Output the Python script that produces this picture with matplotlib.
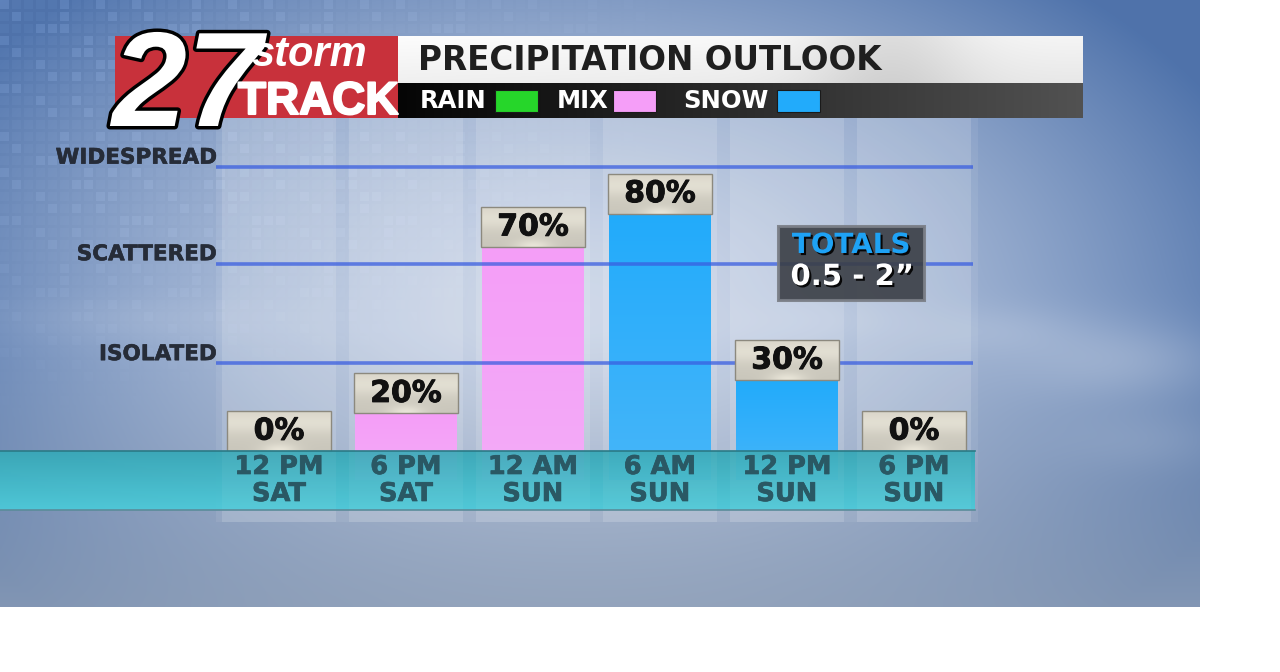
import numpy as np
import matplotlib
matplotlib.use("Agg")
import matplotlib.pyplot as plt
from matplotlib.patches import Rectangle
from matplotlib.colors import to_rgb
from matplotlib.transforms import blended_transform_factory as blend
import matplotlib.patheffects as pe

# ---------------- data ----------------
time_labels = ["12 PM\nSAT", "6 PM\nSAT", "12 AM\nSUN", "6 AM\nSUN", "12 PM\nSUN", "6 PM\nSUN"]
chance_pct = [0, 20, 70, 80, 30, 0]
precip_type = ["none", "mix", "mix", "snow", "snow", "none"]
level_values = [35, 65, 94]
level_names = ["ISOLATED", "SCATTERED", "WIDESPREAD"]
legend_names = ["RAIN", "MIX", "SNOW"]
title_text = "PRECIPITATION OUTLOOK"
totals_title = "TOTALS"
totals_value = "0.5 - 2\u201d"

type_colors = {"rain": "#26d62a", "mix": "#f59ef8", "snow": "#22abfb", "none": "#ffffff"}

MAIN = "DejaVu Sans"
LOGO = ["Liberation Sans", "DejaVu Sans"]

W, H = 1280, 672
IW, IH = 1200, 607
fig = plt.figure(figsize=(12.8, 6.72), dpi=100)
fig.patch.set_facecolor("white")

bg = fig.add_axes([0, 0, 1, 1], zorder=0)
bg.set_xlim(0, W); bg.set_ylim(H, 0); bg.axis("off")

# ---------------- background image ----------------
yy, xx = np.mgrid[0:IH, 0:IW].astype(float)
light = np.array([0.80, 0.84, 0.91])
blue = np.array([0.31, 0.45, 0.67])
gray = np.array([0.60, 0.65, 0.72])
d = np.sqrt(((xx - 580) / 720) ** 2 + ((yy - 310) / 440) ** 2)
wb = np.clip(d, 0, 1) ** 1.5
img = light * (1 - wb[..., None]) + blue * wb[..., None]
g = np.clip((yy - 330) / 280, 0, 1) ** 1.1 * 0.7
img = img * (1 - g[..., None]) + gray * g[..., None]
for cx, cy, sx, sy, a in [(1120, 360, 110, 40, 0.22), (1000, 330, 80, 25, 0.12),
                          (150, 320, 160, 25, 0.10), (1150, 440, 90, 30, 0.10),
                          (820, 320, 90, 20, 0.08)]:
    blob = a * np.exp(-(((xx - cx) / sx) ** 2 + ((yy - cy) / sy) ** 2))
    img = img * (1 - blob[..., None]) + 1.0 * blob[..., None]
ix = (xx // 12).astype(int); iy = (yy // 12).astype(int)
inside = ((xx % 12) < 9) & ((yy % 12) < 9)
hsh = (ix * 73 + iy * 151 + ix * iy * 7) % 11
fade = np.clip(1 - np.sqrt((xx / 700) ** 2 + (yy / 420) ** 2), 0, 1)
tex = inside * (0.02 + 0.04 * (hsh < 3)) * fade
img = np.clip(img + tex[..., None], 0, 1)
bg.imshow(img, extent=(0, IW, IH, 0), aspect="auto", interpolation="bilinear", zorder=0)

# ---------------- bar axes ----------------
n = len(time_labels)
Y0, PPP = 480.0, 3.33          # pixel of 0 %, pixels per percent
SLOT, X0 = 127.0, 279.0        # category spacing / first centre (pixels)
ax = fig.add_axes([(X0 - SLOT / 2) / W, (H - Y0) / H, SLOT * n / W, 100 * PPP / H], zorder=1)
ax.set_xlim(-0.5, n - 0.5); ax.set_ylim(0, 100); ax.axis("off")
x = np.arange(n)

tr_colpix = blend(ax.transData, bg.transData)
tr_pixval = blend(bg.transData, ax.transData)

bg.add_patch(Rectangle((-0.5, 118), n, 404, transform=tr_colpix, facecolor="white",
                       alpha=0.07, lw=0, zorder=1))
for i in x:
    bg.add_patch(Rectangle((i - 0.45, 118), 0.9, 404, transform=tr_colpix,
                           facecolor="white", alpha=0.14, lw=0, zorder=1))

bar_cols = [type_colors[t] for t in precip_type]
bars = ax.bar(x, chance_pct, width=0.8, color=bar_cols, zorder=2, linewidth=0)
# subtle vertical shading inside each bar (saturated top, paler bottom)
for rect, col, v in zip(bars.patches, bar_cols, chance_pct):
    if v <= 0:
        continue
    c = np.array(to_rgb(col))
    s = np.linspace(0, 1, 50)[:, None, None]
    grad = c * (1 - 0.18 * s) + np.array([0.92, 0.90, 0.95]) * 0.18 * s
    im = ax.imshow(np.repeat(grad, 4, axis=1), extent=(rect.get_x(), rect.get_x() + rect.get_width(), 0, v),
                   aspect="auto", origin="upper", zorder=2.1, interpolation="bilinear")
    im.set_clip_path(rect)

for lv, nm in zip(level_values, level_names):
    ax.plot([0, 973], [lv, lv], transform=tr_pixval, color="#3a5ee0", lw=2.6,
            alpha=0.75, zorder=3, solid_capstyle="butt")
    ax.text(217, lv + 1.0, nm, transform=tr_pixval, ha="right", va="baseline",
            fontsize=15.5, fontweight="bold", family=MAIN, color="#262c38", zorder=3,
            path_effects=[pe.withStroke(linewidth=0.4, foreground="#262c38")])

BASE = (Y0 - 451) / PPP
BOXH = 12.0
gy, gx = np.mgrid[0:40, 0:100] / np.array([39.0, 99.0])[:, None, None]
tone = 0.84 + 0.06 * np.exp(-((gy - 0.3) / 0.25) ** 2) - 0.05 * gy \
       + 0.12 * np.exp(-((gx - 0.5) / 0.18) ** 2) * np.exp(-((gy - 1.0) / 0.18) ** 2)
box_img = np.clip(np.stack([tone * 1.0, tone * 0.985, tone * 0.93], axis=-1), 0, 1)
heavy_black = [pe.withStroke(linewidth=0.7, foreground="#111111")]
for i, v in zip(x, chance_pct):
    b = max(v, BASE)
    ax.imshow(box_img, extent=(i - 0.41, i + 0.41, b, b + BOXH), aspect="auto",
              origin="upper", zorder=4, interpolation="bilinear")
    ax.add_patch(Rectangle((i - 0.41, b), 0.82, BOXH, facecolor="none",
                           edgecolor="#8c897e", lw=1.0, zorder=4.5))
    ax.text(i, b + BOXH / 2, f"{v}%", ha="center", va="center", fontsize=21.5,
            fontweight="bold", family=MAIN, color="#111111", zorder=5,
            path_effects=heavy_black)
ax.set_xlim(-0.5, n - 0.5); ax.set_ylim(0, 100)

# ---------------- overlay axes ----------------
ov = fig.add_axes([0, 0, 1, 1], zorder=2)
ov.set_xlim(0, W); ov.set_ylim(H, 0); ov.axis("off")
tr_colov = blend(ax.transData, ov.transData)

band = np.linspace(0, 1, 60)[:, None]
c_top = np.array([0.22, 0.66, 0.72]); c_bot = np.array([0.30, 0.79, 0.85])
band_img = np.repeat(c_top * (1 - band[..., None]) + c_bot * band[..., None], 10, axis=1)
ov.imshow(band_img, extent=(0, 975, 510, 451), aspect="auto", alpha=0.95, zorder=1)
for i in x:
    ov.add_patch(Rectangle((i - 0.45, 451), 0.9, 59, transform=tr_colov, facecolor="white",
                           alpha=0.04, lw=0, zorder=1.5))
ov.plot([0, 975], [451, 451], color="#2b7a86", lw=1.2, zorder=2)
ov.plot([0, 975], [510, 510], color="#5a8c9a", lw=1.2, zorder=2)
teal_txt = [pe.withStroke(linewidth=0.5, foreground="#2a5864")]
for i, lab in zip(x, time_labels):
    l1, l2 = lab.split("\n")
    ov.text(i, 467, l1, transform=tr_colov, ha="center", va="center", fontsize=18.5,
            fontweight="bold", family=MAIN, color="#2a5864", zorder=3, path_effects=teal_txt)
    ov.text(i, 494, l2, transform=tr_colov, ha="center", va="center", fontsize=18.5,
            fontweight="bold", family=MAIN, color="#2a5864", zorder=3, path_effects=teal_txt)

# header
ov.add_patch(Rectangle((115, 36), 283, 82, facecolor="#c8313b", lw=0, zorder=4))
t = np.linspace(0, 1, 300)
tw = 0.99 - 0.10 * np.exp(-((t - 0.72) / 0.12) ** 2) - 0.03 * t
tv = np.linspace(0, 1, 47)[:, None]
white_img = (tw[None, :] - 0.05 * tv)[..., None] * np.ones(3)
ov.imshow(np.clip(white_img, 0, 1), extent=(398, 1083, 83, 36), aspect="auto", zorder=4)
td = 0.02 + 0.30 * t
dark_img = np.repeat(td[None, :], 10, axis=0)[..., None] * np.ones(3)
ov.imshow(dark_img, extent=(398, 1083, 118, 83), aspect="auto", zorder=4)
ov.text(418, 60, title_text, ha="left", va="center", fontsize=23.5, fontweight="bold",
        family=MAIN, color="#1f1f1f", zorder=5)

leg_text_x = [420, 557, 683]
leg_box_x = [495, 613, 777]
for nm, tx, bx in zip(legend_names, leg_text_x, leg_box_x):
    ov.text(tx, 101, nm, ha="left", va="center", fontsize=17.5, fontweight="bold",
            family=MAIN, color="white", zorder=5)
    ov.add_patch(Rectangle((bx, 90), 43, 22, facecolor=type_colors[nm.lower()],
                           edgecolor="#1a1a1a", lw=0.8, zorder=5))

# logo
ov.text(112, 126, "27", ha="left", va="baseline", fontsize=97, fontweight="bold",
        style="italic", family=LOGO, color="white", zorder=6,
        path_effects=[pe.withStroke(linewidth=5, foreground="black")])
ov.text(252, 66, "storm", ha="left", va="baseline", fontsize=30, fontweight="bold",
        style="italic", family=LOGO, color="white", zorder=6)
ov.text(238, 114, "TRACK", ha="left", va="baseline", fontsize=33, fontweight="bold",
        family=LOGO, color="white", zorder=6,
        path_effects=[pe.withStroke(linewidth=1.5, foreground="white")])

# totals box
ov.add_patch(Rectangle((778, 226), 146, 74, facecolor="#3a3e45", alpha=0.9,
                       edgecolor="#7a7e86", lw=2.2, zorder=6))
shadow = [pe.withSimplePatchShadow(offset=(1.5, -1.5), shadow_rgbFace="black", alpha=0.9)]
ov.text(851, 245, totals_title, ha="center", va="center", fontsize=20, fontweight="bold",
        family=MAIN, color="#1ea2f5", zorder=7, path_effects=shadow)
ov.text(852, 277, totals_value, ha="center", va="center", fontsize=21, fontweight="bold",
        family=MAIN, color="white", zorder=7, path_effects=shadow)

fig.savefig("out.png", dpi=100, facecolor="white")
